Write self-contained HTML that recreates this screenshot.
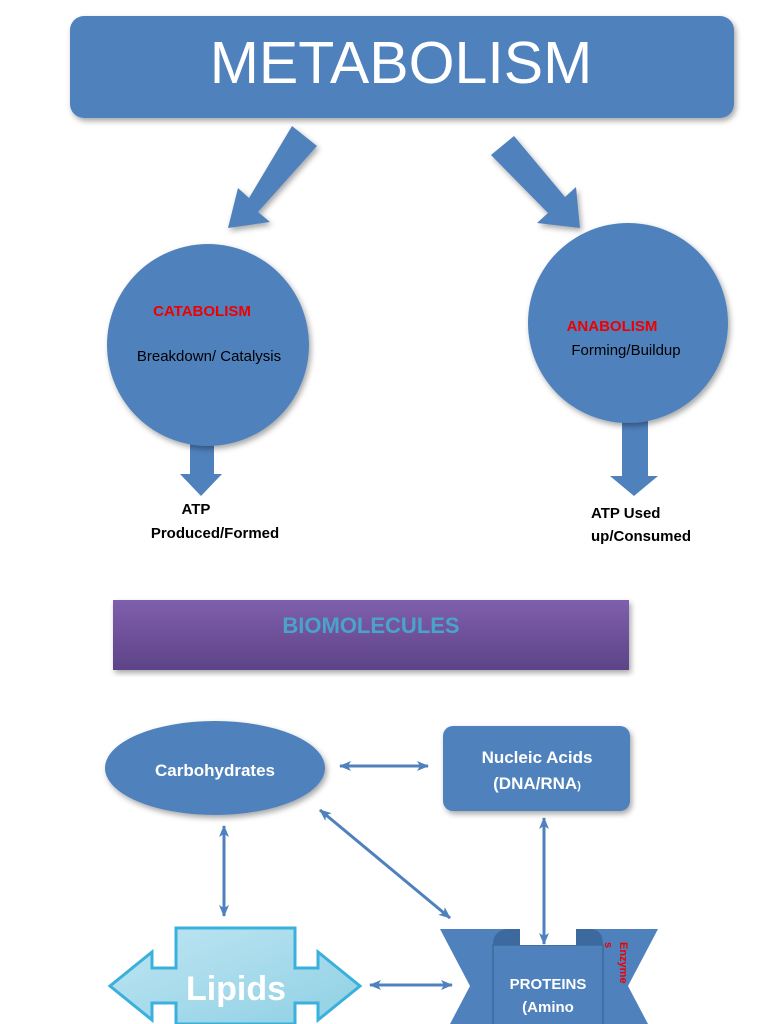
<!DOCTYPE html>
<html><head><style>
body{margin:0;background:#fff;}
svg{display:block;font-family:"Liberation Sans",sans-serif;}
</style></head><body>
<svg width="768" height="1024" viewBox="0 0 768 1024">
<defs>
<linearGradient id="pg" x1="0" y1="0" x2="0" y2="1"><stop offset="0" stop-color="#7f5fad"/><stop offset="1" stop-color="#5d4386"/></linearGradient>
<linearGradient id="lg" x1="0" y1="0" x2="1" y2="1"><stop offset="0" stop-color="#bfe6f2"/><stop offset="1" stop-color="#8fd0e4"/></linearGradient>
<marker id="ah" markerUnits="userSpaceOnUse" markerWidth="12" markerHeight="10" refX="11" refY="5" orient="auto-start-reverse"><path d="M0,0 L12,5 L0,10 L3,5 z" fill="#4f81bd"/></marker>
<filter id="sh"><feDropShadow dx="2" dy="3" stdDeviation="3" flood-opacity="0.35"/></filter>
</defs>
<rect x="70" y="16" width="664" height="102" rx="14" fill="#4f81bd" filter="url(#sh)"/>
<text x="401" y="83" font-size="59" fill="#fff" text-anchor="middle">METABOLISM</text>
<path d="M292,126 L317,146 L258,212 L270,222 L228,228 L238,188 L249,198 Z" fill="#4f81bd" filter="url(#sh)"/>
<path d="M514,136 L491,155 L548,213 L537,223 L580,228 L576,187 L565,197 Z" fill="#4f81bd" filter="url(#sh)"/>
<rect x="190" y="420" width="24" height="56" fill="#4f81bd"/>
<path d="M180,474 L222,474 L201,496 Z" fill="#4f81bd"/>
<circle cx="208" cy="345" r="101" fill="#4f81bd" filter="url(#sh)"/>
<rect x="622" y="400" width="26" height="78" fill="#4f81bd"/>
<path d="M610,476 L658,476 L634,496 Z" fill="#4f81bd"/>
<circle cx="628" cy="323" r="100" fill="#4f81bd" filter="url(#sh)"/>
<text x="202" y="316" font-size="15" font-weight="bold" fill="#e00" text-anchor="middle">CATABOLISM</text>
<text x="209" y="361" font-size="15" fill="#000" text-anchor="middle">Breakdown/ Catalysis</text>
<text x="612" y="331" font-size="15" font-weight="bold" fill="#e00" text-anchor="middle">ANABOLISM</text>
<text x="626" y="355" font-size="15" fill="#000" text-anchor="middle">Forming/Buildup</text>
<text x="196" y="514" font-size="15" font-weight="bold" text-anchor="middle">ATP</text>
<text x="215" y="538" font-size="15" font-weight="bold" text-anchor="middle">Produced/Formed</text>
<text x="591" y="518" font-size="15" font-weight="bold">ATP Used</text>
<text x="591" y="541" font-size="15" font-weight="bold">up/Consumed</text>
<rect x="113" y="600" width="516" height="70" fill="url(#pg)" filter="url(#sh)"/>
<text x="371" y="633" font-size="22" font-weight="bold" fill="#4aa3c8" text-anchor="middle">BIOMOLECULES</text>
<ellipse cx="215" cy="768" rx="110" ry="47" fill="#4f81bd" filter="url(#sh)"/>
<text x="215" y="776" font-size="17" font-weight="bold" fill="#fff" text-anchor="middle">Carbohydrates</text>
<rect x="443" y="726" width="187" height="85" rx="10" fill="#4f81bd" filter="url(#sh)"/>
<text x="537" y="763" font-size="17" font-weight="bold" fill="#fff" text-anchor="middle">Nucleic Acids</text>
<text x="537" y="789" font-size="17" font-weight="bold" fill="#fff" text-anchor="middle">(DNA/RNA<tspan font-size="11">)</tspan></text>
<g stroke="#4f81bd" stroke-width="3" fill="none">
<line x1="340" y1="766" x2="428" y2="766" marker-start="url(#ah)" marker-end="url(#ah)"/>
<line x1="224" y1="826" x2="224" y2="916" marker-start="url(#ah)" marker-end="url(#ah)"/>
<line x1="320" y1="810" x2="450" y2="918" marker-start="url(#ah)" marker-end="url(#ah)"/>
<line x1="544" y1="818" x2="544" y2="944" marker-start="url(#ah)" marker-end="url(#ah)"/>
<line x1="370" y1="985" x2="452" y2="985" marker-start="url(#ah)" marker-end="url(#ah)"/>
</g>
<path d="M176,928 H295 V968 H318 V952 L360,986 L318,1020 V1003 H295 V1024 H176 V1003 H152 V1020 L110,986 L152,952 V968 H176 Z" fill="url(#lg)" stroke="#3ab0dc" stroke-width="3"/>
<text x="236" y="1000" font-size="34" font-weight="bold" fill="#fff" text-anchor="middle">Lipids</text>
<path d="M440,929 H658 L628,986 L658,1043 H440 L470,986 Z" fill="#4f81bd"/>
<path d="M493,945 Q493,929 510,929 H520 V945 Z M576,945 V929 H590 Q603,929 603,945 Z" fill="#3d6a9e"/>
<rect x="493" y="945" width="110" height="90" fill="#4f81bd" stroke="#3d6a9e" stroke-width="1.5"/>
<rect x="520" y="929" width="56" height="16" fill="#fff"/>
<line x1="544" y1="900" x2="544" y2="944" stroke="#4f81bd" stroke-width="3" marker-end="url(#ah)"/>
<text x="548" y="989" font-size="15" font-weight="bold" fill="#fff" text-anchor="middle">PROTEINS</text>
<text x="548" y="1012" font-size="15" font-weight="bold" fill="#fff" text-anchor="middle">(Amino</text>
<text transform="translate(620,942) rotate(90)" font-size="11" font-weight="bold" fill="#e00">Enzyme</text>
<text transform="translate(605,942) rotate(90)" font-size="11" font-weight="bold" fill="#e00">s</text>
</svg>
</body></html>
